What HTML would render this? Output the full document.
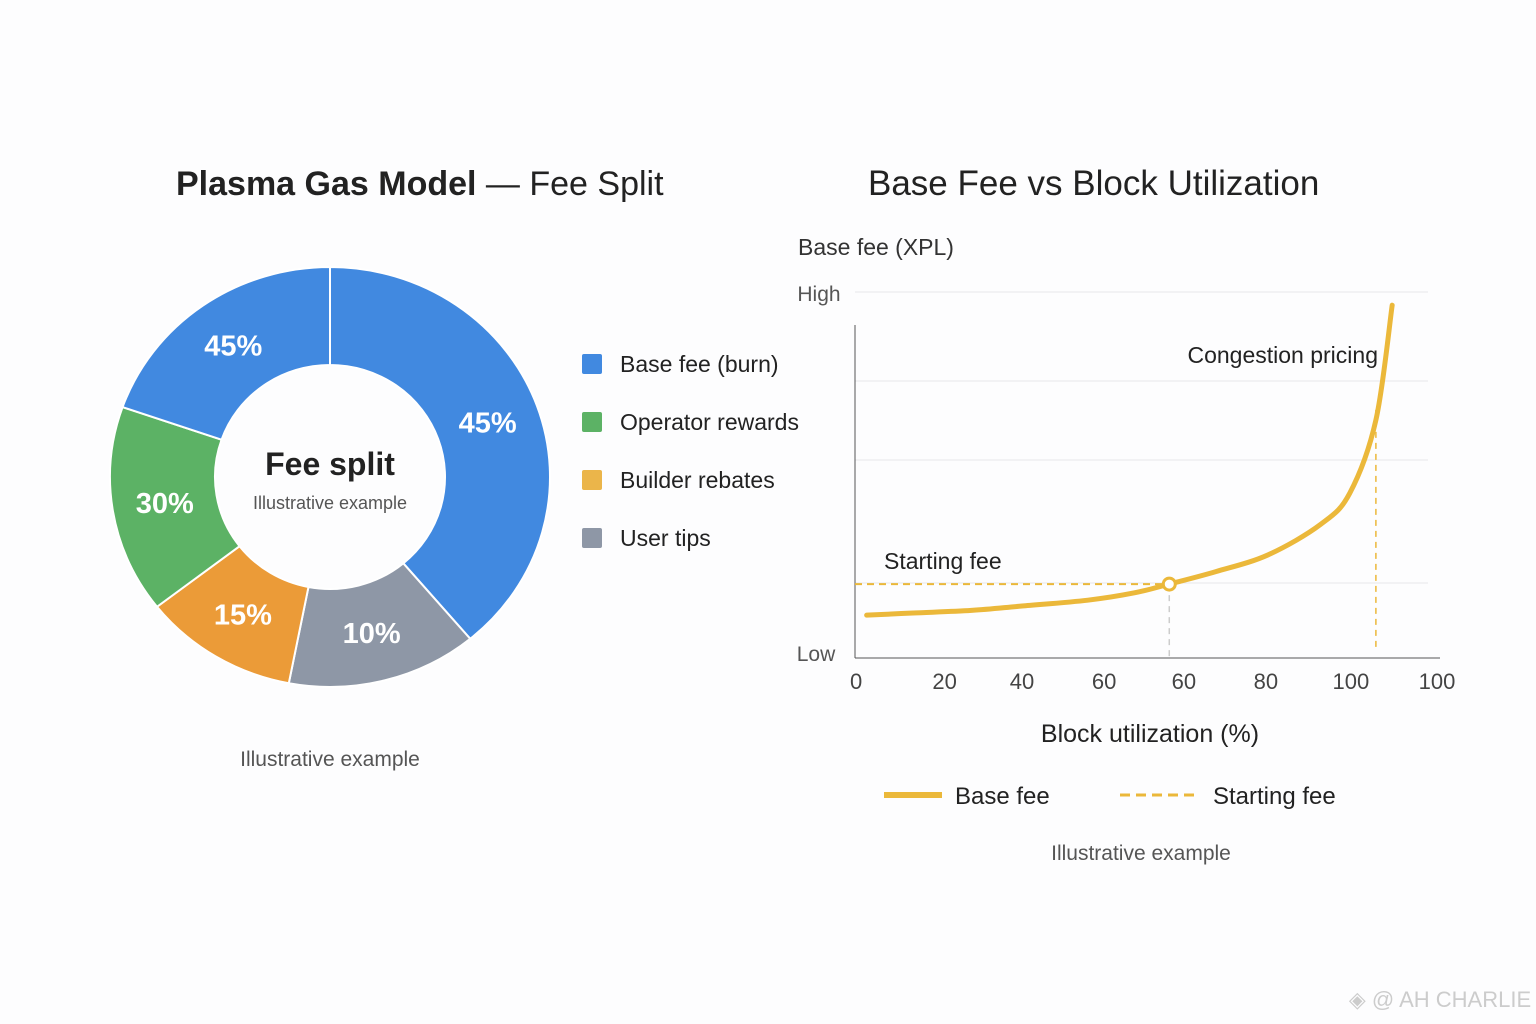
<!DOCTYPE html>
<html><head><meta charset="utf-8"><style>
body{margin:0;background:#fdfdfe;}
svg{display:block;font-family:"Liberation Sans",sans-serif;}
</style></head><body>
<svg id="c" width="1536" height="1024" viewBox="0 0 1536 1024">
<rect width="1536" height="1024" fill="#fdfdfe"/>
<text x="176" y="195" font-size="34" fill="#222"><tspan font-weight="bold">Plasma Gas Model</tspan> — Fee Split</text>
<text x="868" y="195" font-size="35" fill="#222">Base Fee vs Block Utilization</text>
<g id="donut"></g>
<text x="330" y="475" font-size="32" font-weight="bold" fill="#222" text-anchor="middle">Fee split</text>
<text x="330" y="509" font-size="18" fill="#555" text-anchor="middle">Illustrative example</text>
<text x="330" y="766" font-size="21" fill="#555" text-anchor="middle">Illustrative example</text>
<g id="legend"></g>
<g id="line"></g>
<text x="1440" y="1007" font-size="22" fill="#ccc" text-anchor="middle">◈ @ AH CHARLIE</text>
</svg>
<script>
const sliceLabels=["45%","10%","15%","30%","45%"];
const sliceValues=[39,14,11.4,16,19.6];
const sliceColors=["#4189e0","#8e97a6","#eb9b38","#5cb265","#4189e0"];
const legendLabels=["Base fee (burn)","Operator rewards","Builder rebates","User tips"];
const legendColors=["#4189e0","#5cb265","#ebb54a","#8e97a6"];
const utilValues=[2,10,20,28.7,40,48,54,62,71,80,85,89.5,92.3];
const feeValues=[11.7,12.3,13.0,14.2,15.8,17.8,20.2,23.6,28.2,36.5,45,65,96.4];
const startUtil=54, startFee=20.2, congestionUtil=89.5;
const xTickLabels=["0","20","40","60","60","80","100","100"];
const xTickPos=[0.2,15.4,28.7,42.8,56.5,70.6,85.2,100];
const NS="http://www.w3.org/2000/svg";
function mk(t,a,p){const e=document.createElementNS(NS,t);for(const k in a)e.setAttribute(k,a[k]);p.appendChild(e);return e;}
const cx=330,cy=477,rx=220,ry=210,ix=115,iy=112;
const D=document.getElementById('donut');
const tot=sliceValues.reduce((a,b)=>a+b,0);
let a0=0;
function pt(a,rX,rY){return [cx+rX*Math.sin(a),cy-rY*Math.cos(a)];}
sliceValues.forEach((v,i)=>{
 const a1=a0+v/tot*2*Math.PI;
 const p1=pt(a0,rx,ry),p2=pt(a1,rx,ry),p3=pt(a1,ix,iy),p4=pt(a0,ix,iy);
 const lg=(a1-a0)>Math.PI?1:0;
 const s=mk('path',{d:`M${p1}A${rx},${ry} 0 ${lg} 1 ${p2}L${p3}A${ix},${iy} 0 ${lg} 0 ${p4}Z`,fill:sliceColors[i],stroke:'#fff','stroke-width':2},D);
 
 
 const m=(a0+a1)/2,lp=pt(m,(rx+ix)/2,(ry+iy)/2);
 const t=mk('text',{x:lp[0],y:lp[1]+10,'font-size':29,'font-weight':'bold',fill:'#fff','text-anchor':'middle'},D);
 t.textContent=sliceLabels[i];
 
 
 a0=a1;
});
const L=document.getElementById('legend');
legendLabels.forEach((l,i)=>{
 const y=364+i*58;
 const r=mk('rect',{x:582,y:y-10,width:20,height:20,rx:2,fill:legendColors[i]},L);
 
 
 const t=mk('text',{x:620,y:y+8,'font-size':23,fill:'#222'},L);
 t.textContent=l;
 
 
});
const G=document.getElementById('line');
const X=u=>855+u*5.82, Y=f=>658-f*3.66;
[292,381,460,583].forEach(y=>{const g=mk('line',{x1:855,x2:1428,y1:y,y2:y,stroke:'#e6e6ea'},G);});
let e=mk('line',{x1:855,x2:855,y1:325,y2:658,stroke:'#555'},G);
e=mk('line',{x1:855,x2:1440,y1:658,y2:658,stroke:'#555'},G);
xTickLabels.forEach((l,i)=>{const t=mk('text',{x:X(xTickPos[i]),y:689,'font-size':22,fill:'#444','text-anchor':'middle'},G);t.textContent=l;});
[["High",819,301],["Low",816,661]].forEach(([l,x,y])=>{const t=mk('text',{x,y,'font-size':21,fill:'#555','text-anchor':'middle'},G);t.textContent=l;});
let t=mk('text',{x:798,y:255,'font-size':23,fill:'#333'},G);t.textContent="Base fee (XPL)";
t=mk('text',{x:1150,y:742,'font-size':25,fill:'#222','text-anchor':'middle'},G);t.textContent="Block utilization (%)";
e=mk('line',{x1:855,x2:X(startUtil),y1:Y(startFee),y2:Y(startFee),stroke:'#ebb83a','stroke-width':2,'stroke-dasharray':'7 5'},G);
e=mk('line',{x1:X(startUtil),x2:X(startUtil),y1:Y(startFee),y2:658,stroke:'#ccc','stroke-width':1.5,'stroke-dasharray':'6 5'},G);
e=mk('line',{x1:X(congestionUtil),x2:X(congestionUtil),y1:Y(67.8),y2:648,stroke:'#ebb83a','stroke-width':1.5,'stroke-dasharray':'6 5'},G);
const P=utilValues.map((u,i)=>[X(u),Y(feeValues[i])]);
let d=`M${P[0][0]},${P[0][1]}`;
for(let i=0;i<P.length-1;i++){
 const p0=P[Math.max(0,i-1)],p1=P[i],p2=P[i+1],p3=P[Math.min(P.length-1,i+2)];
 const c1=[p1[0]+(p2[0]-p0[0])/6,p1[1]+(p2[1]-p0[1])/6];
 const c2=[p2[0]-(p3[0]-p1[0])/6,p2[1]-(p3[1]-p1[1])/6];
 d+=`C${c1} ${c2} ${p2}`;
}
e=mk('path',{d,fill:'none',stroke:'#ebb83a','stroke-width':5,'stroke-linejoin':'round','stroke-linecap':'round'},G);
e=mk('circle',{cx:X(startUtil),cy:Y(startFee),r:6,fill:'#fff',stroke:'#ebb83a','stroke-width':3},G);
t=mk('text',{x:884,y:569,'font-size':23,fill:'#222'},G);t.textContent="Starting fee";
t=mk('text',{x:1378,y:363,'font-size':23,fill:'#222','text-anchor':'end'},G);t.textContent="Congestion pricing";
e=mk('line',{x1:884,x2:942,y1:795,y2:795,stroke:'#ebb83a','stroke-width':6},G);
t=mk('text',{x:955,y:804,'font-size':24,fill:'#222'},G);t.textContent="Base fee";
e=mk('line',{x1:1120,x2:1198,y1:795,y2:795,stroke:'#ebb83a','stroke-width':3,'stroke-dasharray':'10 6'},G);
t=mk('text',{x:1213,y:804,'font-size':24,fill:'#222'},G);t.textContent="Starting fee";
t=mk('text',{x:1141,y:860,'font-size':21,fill:'#555','text-anchor':'middle'},G);t.textContent="Illustrative example";
</script>
</body></html>
